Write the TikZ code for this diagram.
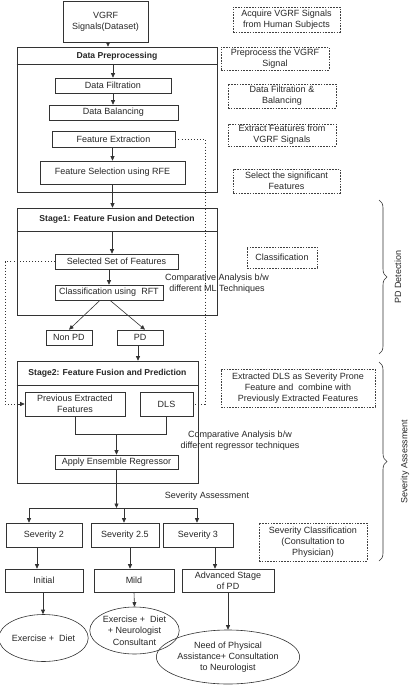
\documentclass[tikz,border=0pt]{standalone}
\usepackage{fontspec}
\setmainfont{Liberation Sans}
\usetikzlibrary{arrows.meta,shapes.geometric,decorations.pathreplacing}
\begin{document}
\begin{tikzpicture}[x=1pt,y=-1pt,
  every node/.style={font=\fontsize{9}{11.3}\selectfont, inner sep=0pt, align=center, text=black!85},
  bx/.style={draw=black!80, line width=0.6pt},
  hd/.style={font=\fontsize{8.6}{11}\selectfont\bfseries},
  ann/.style={draw=black!75, line width=0.6pt, dash pattern=on 1.6pt off 1.2pt},
  ell/.style={draw=black!80, line width=0.6pt, ellipse, inner sep=0pt},
  ln/.style={draw=black!80, line width=0.6pt},
  arr/.style={ln, -{Triangle[length=4.5pt,width=4pt]}},
  dotl/.style={draw=black!80, line width=0.9pt, dash pattern=on 0.9pt off 2.2pt},
  brc/.style={draw=black!80, line width=0.6pt, decorate, decoration={brace, amplitude=8pt}}
]
\useasboundingbox (0,0) rectangle (417,685);

% left column
\node[bx, minimum width=85pt, minimum height=41pt] (vgrf) at (105.5,21.5) {VGRF\\Signals(Dataset)};

\node[bx, minimum width=200pt, minimum height=145pt] (dp) at (117,119.5) {};
\coordinate (dpline) at (0,64);
\draw[ln] (dp.west |- dpline) -- (dp.east |- dpline);
\node[hd] (dph) at (117,56) {Data Preprocessing};
\node[bx, minimum width=116pt, minimum height=15pt] (df) at (113,85.5) {Data Filtration};
\node[bx, minimum width=129pt, minimum height=15pt] (db) at (113.5,112.5) {Data Balancing};
\node[bx, minimum width=123pt, minimum height=16pt] (fe) at (113.5,139) {Feature Extraction};
\node[bx, minimum width=145pt, minimum height=23pt] (fs) at (112.5,172.5) {Feature Selection using RFE};

\node[bx, minimum width=200pt, minimum height=107pt] (s1) at (117,261.5) {};
\coordinate (s1line) at (0,231);
\draw[ln] (s1.west |- s1line) -- (s1.east |- s1line);
\node[hd] (s1h) at (117,219.5) {Stage1: Feature Fusion and Detection};
\node[bx, minimum width=123pt, minimum height=15pt] (ss) at (116.5,261.5) {Selected Set of Features};
\node[bx, minimum width=108pt, minimum height=15pt] (cls) at (109,292.5) {Classification using\ \ RFT};
\node[bx, minimum width=46pt, minimum height=15pt] (nonpd) at (69,337.5) {Non PD};
\node[bx, minimum width=46pt, minimum height=15pt] (pd) at (140,337.5) {PD};

\node[bx, minimum width=181pt, minimum height=122pt] (s2) at (107.5,422) {};
\coordinate (s2line) at (0,385);
\draw[ln] (s2.west |- s2line) -- (s2.east |- s2line);
\node[hd] (s2h) at (107.5,373) {Stage2: Feature Fusion and Prediction};
\node[bx, minimum width=100pt, minimum height=24pt] (prev) at (75,404) {Previous Extracted\\Features};
\node[bx, minimum width=53pt, minimum height=24pt] (dls) at (166.5,404) {DLS};
\node[bx, minimum width=123pt, minimum height=14pt] (apply) at (116.5,462) {Apply Ensemble Regressor};

\node[bx, minimum width=76pt, minimum height=24pt] (sev2) at (44,535) {Severity 2};
\node[bx, minimum width=68pt, minimum height=24pt] (sev25) at (125,535) {Severity 2.5};
\node[bx, minimum width=70pt, minimum height=24pt] (sev3) at (198,535) {Severity 3};
\node[bx, minimum width=78pt, minimum height=23pt] (init) at (44,580.5) {Initial};
\node[bx, minimum width=80pt, minimum height=23pt] (mild) at (134,580.5) {Mild};
\node[bx, minimum width=92pt, minimum height=23pt] (adv) at (228,580.5) {Advanced Stage\\of PD};

\node[ell, minimum width=69pt, minimum height=47pt] (e1) at (43.5,638) {Exercise +\ \ Diet};
\node[ell, minimum width=85pt, minimum height=47pt] (e2) at (134.5,630.5) {Exercise +\ \ Diet\\+ Neurologist\\Consultant};
\node[ell, minimum width=108pt, minimum height=54pt] (e3) at (228,657) {Need of Physical\\Assistance+ Consultation\\to Neurologist};

% free texts
\node (cmp1) at (217,284) {Comparative Analysis b/w\\different ML Techniques};
\node (cmp2) at (240,441) {Comparative Analysis b/w\\different regressor techniques};
\node (sevass) at (207,496) {Severity Assessment};

% annotations
\node[ann, minimum width=107pt, minimum height=25pt] (a1) at (286.5,19.5) {Acquire VGRF Signals\\from Human Subjects};
\node[ann, minimum width=108pt, minimum height=23pt] (a2) at (275,58.5) {Preprocess the VGRF\\Signal};
\node[ann, minimum width=108pt, minimum height=24pt] (a3) at (282,96) {Data Filtration \&\\Balancing};
\node[ann, minimum width=108pt, minimum height=22pt] (a4) at (282,135) {Extract Features from\\VGRF Signals};
\node[ann, minimum width=107pt, minimum height=24pt] (a5) at (286.5,181) {Select the significant\\Features};
\node[ann, minimum width=70pt, minimum height=21pt] (a6) at (282,257.5) {Classification};
\node[ann, minimum width=154pt, minimum height=38pt] (a7) at (298,388) {Extracted DLS as Severity Prone\\Feature and\ \ combine with\\Previously Extracted Features};
\node[ann, minimum width=108pt, minimum height=38pt] (a8) at (313,542) {Severity Classification\\(Consultation to\\Physician)};

% braces
\coordinate (b1t) at (379,200);
\coordinate (b1b) at (379,354);
\draw[brc] (b1t) -- (b1b);
\node[rotate=90] (pdd) at (398,277) {PD Detection};
\coordinate (b2t) at (379,362);
\coordinate (b2b) at (379,561);
\draw[brc] (b2t) -- (b2b);
\node[rotate=90] (sva) at (405,461.5) {Severity Assessment};

% arrows
\draw[arr] ([xshift=2.5pt]vgrf.south) -- ([xshift=2.5pt]vgrf.south |- dp.north);
\draw[arr] (df.north |- dpline) -- (df.north);
\draw[arr] (df.south) -- (df.south |- db.north);
\draw[arr] (fs.north |- fe.south) -- (fs.north);
\draw[arr] (fs.south) -- (fs.south |- s1.north);
\draw[arr] ([xshift=-4.5pt]ss.north |- s1line) -- ([xshift=-4.5pt]ss.north);
\draw[arr] (cls.north |- ss.south) -- (cls.north);
\draw[arr] ([xshift=-9pt]cls.south) -- (nonpd.north);
\draw[arr] ([xshift=1pt]cls.south) -- ([xshift=5pt]pd.north);
\draw[arr] ([xshift=-2pt]pd.south) -- ([xshift=-2pt]pd.south |- s2.north);

\draw[ln] (prev.south) -- ++(0,18) -| (dls.south);
\coordinate (mj) at (116.5,434);
\draw[arr] (mj) -- (apply.north);
\coordinate (split) at (116.5,508);
\coordinate (sl) at (29,508);
\coordinate (sr) at (197,508);
\draw[arr] (apply.south) -- (split);
\draw[ln] (sl) -- (sr);
\draw[arr] (sl) -- (sl |- sev2.north);
\draw[arr] ([xshift=-1pt]sev25.north |- split) -- ([xshift=-1pt]sev25.north);
\draw[arr] (sr) -- (sr |- sev3.north);

\draw[arr] ([xshift=-7pt]sev2.south) -- ([xshift=-7pt]init.north);
\draw[arr] ([xshift=5pt]sev25.south) -- ([xshift=-4pt]mild.north);
\draw[arr] ([xshift=17pt]sev3.south) -- ([xshift=-13pt]adv.north);
\draw[arr] ([xshift=-1pt]init.south) -- ([xshift=-0.5pt]e1.north);
\draw[arr] (mild.south) -- (e2.north);
\draw[arr] (adv.south) -- (e3.north);

% dotted connectors
\coordinate (dl) at (5,0);
\coordinate (dr) at (205,0);
\draw[dotl] (fe.east) -- (fe.east -| dr) |- (dls.east);
\draw[dotl] (ss.west) -- (ss.west -| dl) -- (dl |- prev.west) -- ([xshift=-7pt]prev.west);
\draw[arr] ([xshift=-7pt]prev.west) -- (prev.west);
\end{tikzpicture}
\end{document}
